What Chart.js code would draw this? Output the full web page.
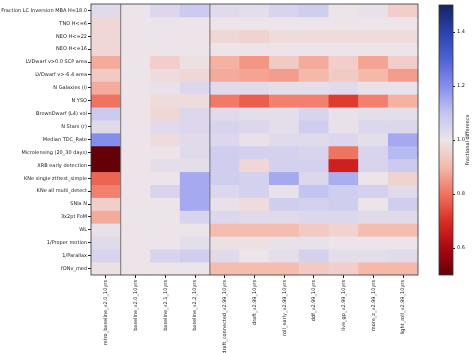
<!DOCTYPE html>
<html><head><meta charset="utf-8">
<script src="https://cdn.jsdelivr.net/npm/chart.js@4/dist/chart.umd.min.js"></script>
<style>
html,body{margin:0;padding:0;background:#fff;}
#wrap{position:relative;width:474px;height:353px;}
#main{position:absolute;left:0;top:0;}
#cbar{position:absolute;left:430px;top:0;}
</style></head>
<body><div id="wrap"><canvas id="main" width="420" height="353"></canvas><canvas id="cbar" width="44" height="353"></canvas></div>
<script>
const rows = ["Fraction LC Inversion MBA H=18.0","TNO H<=6","NEO H<=22","NEO H<=16","LVDwarf v>0.0 SCP area","LVDwarf v>-6.4 area","N Galaxies (i)","N YSO","BrownDwarf (L4) vol","N Stars (r)","Median TDC_Rate","Microlensing (20_30 days)","XRB early detection","KNe single ztfrest_simple","KNe all multi_detect","SNIa N","3x2pt FoM","WL","1/Proper motion","1/Parallax","fONv_med"];
const cols = ["retro_baseline_v2.0_10yrs","baseline_v2.0_10yrs","baseline_v2.1_10yrs","baseline_v2.2_10yrs","draft_connected_v2.99_10yrs","draft_v2.99_10yrs","roll_early_v2.99_10yrs","ddf_v2.99_10yrs","live_gp_v2.99_10yrs","more_z_v2.99_10yrs","light_roll_v2.99_10yrs"];

const retro      = [1.03,0.97,0.97,0.97,0.88,0.94,0.88,0.80,1.08,1.03,1.20,0.45,0.45,0.78,0.82,0.95,0.88,1.01,1.03,1.05,0.99];
const base20     = [1.00,1.00,1.00,1.00,1.00,1.00,1.00,1.00,1.00,1.00,1.00,1.00,1.00,1.00,1.00,1.00,1.00,1.00,1.00,1.00,1.00];
const base21     = [1.04,1.00,1.00,1.00,0.95,0.98,1.01,0.98,0.97,1.03,0.98,1.00,1.02,1.00,1.05,1.00,1.00,1.00,1.00,1.05,1.00];
const base22     = [1.08,1.00,1.00,1.00,0.99,0.97,1.04,0.98,1.04,1.04,1.03,1.03,1.02,1.15,1.15,1.15,1.05,1.00,1.02,1.07,1.00];
const draftConn  = [1.03,1.00,0.97,1.00,0.89,0.88,1.03,0.81,1.03,1.05,1.04,1.07,1.07,1.07,1.04,1.01,1.04,0.91,0.99,1.03,0.91];
const draft      = [1.02,1.00,0.96,1.00,0.85,0.87,1.03,0.77,1.02,1.04,1.01,1.06,0.97,1.06,1.06,0.98,1.03,0.91,0.99,1.00,0.91];
const rollEarly  = [1.05,1.00,0.98,1.00,0.94,0.86,1.02,0.82,1.02,1.02,1.03,1.06,1.06,1.15,1.01,1.07,1.03,0.91,1.01,1.02,0.91];
const ddf        = [1.07,1.00,0.98,1.00,0.88,0.90,1.02,0.82,1.05,1.07,1.03,1.05,1.06,1.04,1.10,1.06,1.04,0.94,1.01,1.06,0.94];
const liveGp     = [1.00,1.00,0.98,1.00,0.95,0.94,1.03,0.72,1.01,1.01,1.04,0.80,0.67,1.14,1.07,1.07,1.04,0.96,1.00,1.02,0.95];
const moreZ      = [1.01,1.00,0.98,1.00,0.87,0.90,1.01,0.82,1.02,1.04,1.02,1.05,1.05,1.00,1.06,1.00,1.03,0.91,1.00,1.02,0.90];
const lightRoll  = [0.95,1.00,0.98,1.00,0.95,0.86,1.01,0.89,1.02,1.04,1.15,1.12,1.08,0.96,1.03,1.07,1.03,0.91,1.00,1.03,0.90];

const columnsData = [retro,base20,base21,base22,draftConn,draft,rollEarly,ddf,liveGp,moreZ,lightRoll];
const cbTicks = [0.6,0.8,1.0,1.2,1.4];
const vmin = 0.5, vmax = 1.5;

// colormap stops (value -> rgb)
const cmap = [
  [0.50,[100,0,8]],[0.60,[172,6,20]],[0.70,[220,45,35]],[0.80,[240,115,95]],
  [0.90,[245,185,170]],[1.00,[236,228,232]],[1.10,[196,196,242]],[1.20,[132,142,238]],
  [1.30,[78,98,214]],[1.40,[42,66,176]],[1.50,[22,36,96]]
];
function colorFor(v){
  v = Math.max(vmin, Math.min(vmax, v));
  for(let i=0;i<cmap.length-1;i++){
    const [a,ca]=cmap[i],[b,cb]=cmap[i+1];
    if(v>=a && v<=b){
      const t=(v-a)/(b-a);
      const c=ca.map((x,k)=>Math.round(x+(cb[k]-x)*t));
      return `rgb(${c[0]},${c[1]},${c[2]})`;
    }
  }
  return 'rgb(236,228,232)';
}

const FONT = {family:'DejaVu Sans', size:5};
const datasets = rows.map((r,ri)=>({
  label:r,
  data: cols.map(()=>1),
  backgroundColor: cols.map((c,ci)=>colorFor(columnsData[ci][ri])),
  borderWidth:0,
  barPercentage:1,
  categoryPercentage:1
}));

const framePlugin = {
  id:'frame',
  afterDatasetsDraw(chart){
    const {ctx, chartArea:a, scales:{x}} = chart;
    ctx.save();
    ctx.strokeStyle='#555';
    ctx.lineWidth=0.8;
    [0,3].forEach(i=>{
      const px=(x.getPixelForValue(i)+x.getPixelForValue(i+1))/2;
      ctx.beginPath();ctx.moveTo(px,a.top);ctx.lineTo(px,a.bottom);ctx.stroke();
    });
    ctx.strokeStyle='#333';
    ctx.strokeRect(a.left,a.top,a.right-a.left,a.bottom-a.top);
    ctx.restore();
  }
};

new Chart(document.getElementById('main'),{
  type:'bar',
  data:{labels:cols, datasets},
  options:{
    responsive:false, animation:false, devicePixelRatio:1,
    layout:{padding:{top:3,right:2,left:0,bottom:0}},
    plugins:{legend:{display:false},tooltip:{enabled:false}},
    scales:{
      x:{
        stacked:true, offset:true,
        grid:{offset:false, drawOnChartArea:false, tickLength:3, color:'#222'},
        border:{display:false},
        ticks:{autoSkip:false, maxRotation:90, minRotation:90, font:FONT, color:'#222', padding:2},
        afterFit(s){ s.height = 78; }
      },
      y:{
        stacked:true, min:0, max:21, reverse:true,
        grid:{drawOnChartArea:false, tickLength:3, color:'#222'},
        border:{display:false},
        afterBuildTicks(s){ s.ticks = rows.map((r,i)=>({value:i+0.5})); },
        ticks:{autoSkip:false, font:FONT, color:'#222', padding:1,
          callback:(v,i)=>rows[i]},
        afterFit(s){ s.width = 91; }
      }
    }
  },
  plugins:[framePlugin]
});

const cbPlugin = {
  id:'cbframe',
  afterDraw(chart){
    const {ctx, chartArea:a} = chart;
    ctx.save();
    ctx.strokeStyle='#333';ctx.lineWidth=0.8;
    ctx.strokeRect(a.left,a.top,a.right-a.left,a.bottom-a.top);
    ctx.translate(38,(a.top+a.bottom)/2);
    ctx.rotate(-Math.PI/2);
    ctx.fillStyle='#222';
    ctx.font='5px "DejaVu Sans"';
    ctx.textAlign='center';ctx.textBaseline='middle';
    ctx.fillText('Fractional difference',0,0);
    ctx.restore();
  }
};

new Chart(document.getElementById('cbar'),{
  type:'bar',
  data:{labels:[''], datasets:[{
    data:[[vmin,vmax]],
    borderWidth:0, barPercentage:1, categoryPercentage:1,
    backgroundColor:(c)=>{
      const ch=c.chart, a=ch.chartArea;
      if(!a) return '#ccc';
      const y=ch.scales.y;
      const g=ch.ctx.createLinearGradient(0,y.getPixelForValue(vmin),0,y.getPixelForValue(vmax));
      cmap.forEach(([v,cc])=>g.addColorStop((v-vmin)/(vmax-vmin),`rgb(${cc[0]},${cc[1]},${cc[2]})`));
      return g;
    }
  }]},
  options:{
    responsive:false, animation:false, devicePixelRatio:1,
    layout:{padding:{top:3,left:9,right:0,bottom:78}},
    plugins:{legend:{display:false},tooltip:{enabled:false}},
    scales:{
      x:{display:false},
      y:{position:'right', min:vmin, max:vmax,
        grid:{drawOnChartArea:false, tickLength:2, color:'#222'},
        border:{display:false},
        afterBuildTicks(s){ s.ticks = cbTicks.map(v=>({value:v})); },
        ticks:{font:FONT, color:'#222', padding:2, callback:(v)=>v.toFixed(1)},
        afterFit(s){ s.width = 21; }
      }
    }
  },
  plugins:[cbPlugin]
});
</script>
</body></html>
